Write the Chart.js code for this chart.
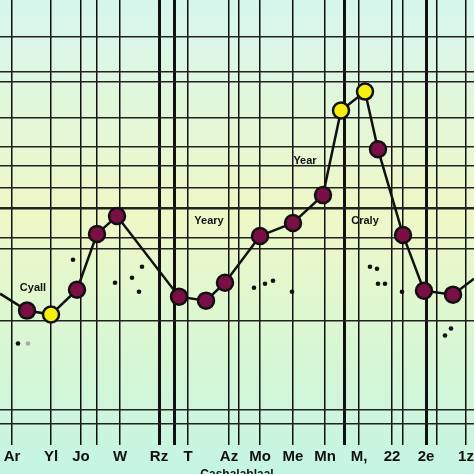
<!DOCTYPE html>
<html><head><meta charset="utf-8">
<script src="https://cdn.jsdelivr.net/npm/chart.js@4"></script>
<style>html,body{margin:0;padding:0;width:474px;height:474px;overflow:hidden}#w{width:474px;height:474px}</style>
</head><body><div id="w"><canvas id="c"></canvas></div>
<script>
const lineX = [0,27,51,77,97,117,179,206,225,260,293,323,341,365,378,403,424,453,474];
const lineV = [148,131,127,152,208,226,145,141,159,206,219,247,332,351,293,207,151,147,163];
const lineKind = ['none','m','y','m','m','m','m','m','m','m','m','m','y','y','m','m','m','m','none'];
const dotX = [18,28,73,115,132,142,139,254,265,273,292,370,377,378,385,402,445,451];
const dotV = [98,98,182,159,164,175,150,154,158,161,150,175,173,158,158,150,106,113];
const dotGray = [false,true,false,false,false,false,false,false,false,false,false,false,false,false,false,false,false,false];
const xGrid = [12,51,81,97,120,159,174,188,229,239,260,293,325,344,359,392,403,426,437,466];
const xHeavy = [159,174,344,426];
const xLabels = {12:'Ar',51:'Yl',81:'Jo',120:'W',159:'Rz',188:'T',229:'Az',260:'Mo',293:'Me',325:'Mn',359:'M,',392:'22',426:'2e',466:'1z'};
const yGrid = [406,371,361,325,296,277,254,234,204,193,121,31,17];
const yHeavy = [234];
const notes = [['Cyall',33,154],['Yeary',209,221],['Year',305,281],['Craly',365,221]];
const xTitle = 'Cashalablaal';

const bg = {id:'bg',beforeDraw(ch){const c=ch.ctx;const g=c.createLinearGradient(0,0,0,474);
 g.addColorStop(0,'#d6f6ee');g.addColorStop(0.45,'#eef8c6');g.addColorStop(1,'#c4f5e2');
 c.save();c.fillStyle=g;c.fillRect(0,0,474,474);c.restore();},
 afterDraw(ch){const c=ch.ctx,xs=ch.scales.x,ys=ch.scales.y;c.save();c.fillStyle='#111';
 c.font='bold 11px "Liberation Sans", Arial';c.textAlign='center';c.textBaseline='middle';
 notes.forEach(n=>c.fillText(n[0],xs.getPixelForValue(n[1]),ys.getPixelForValue(n[2])));
 c.font='bold 12px "Liberation Sans", Arial';c.fillText(xTitle,237,475);c.restore();}};

new Chart(document.getElementById('c'),{
 type:'line',
 data:{datasets:[
  {data:lineX.map((x,i)=>({x,y:lineV[i]})),borderColor:'#111',borderWidth:2.5,
   pointRadius:c=>lineKind[c.dataIndex]==='none'?0:8,pointBorderWidth:2.5,pointBorderColor:'#111',
   pointBackgroundColor:c=>lineKind[c.dataIndex]==='y'?'#f5ee10':'#7a0f45',tension:0},
  {type:'scatter',data:dotX.map((x,i)=>({x,y:dotV[i]})),pointRadius:2.3,borderWidth:0,
   pointBackgroundColor:c=>dotGray[c.dataIndex]?'#aaa':'#111',showLine:false}
 ]},
 options:{responsive:true,maintainAspectRatio:false,animation:false,
  layout:{autoPadding:false,padding:{left:0,right:0,top:0,bottom:5}},
  plugins:{legend:{display:false},tooltip:{enabled:false}},
  scales:{
   x:{type:'linear',min:0,max:474,
    afterBuildTicks:a=>{a.ticks=xGrid.map(v=>({value:v}));},
    afterFit:s=>{s.paddingLeft=0;s.paddingRight=0;},
    ticks:{autoSkip:false,maxRotation:0,padding:3,color:'#111',font:{family:'"Liberation Sans", Arial',weight:'bold',size:15},callback:v=>xLabels[v]||''},
    grid:{color:'#111',lineWidth:c=>xHeavy.includes(c.tick&&c.tick.value)?3:1.5,drawTicks:true,tickLength:4},border:{display:false}},
   y:{type:'linear',min:0,max:443,
    afterBuildTicks:a=>{a.ticks=yGrid.map(v=>({value:v}));},
    afterFit:s=>{s.width=0;},
    ticks:{display:false},
    grid:{color:'#222',lineWidth:c=>yHeavy.includes(c.tick&&c.tick.value)?2.5:1.5,drawTicks:false},border:{display:false}}
  }},
 plugins:[bg]
});
</script></body></html>
